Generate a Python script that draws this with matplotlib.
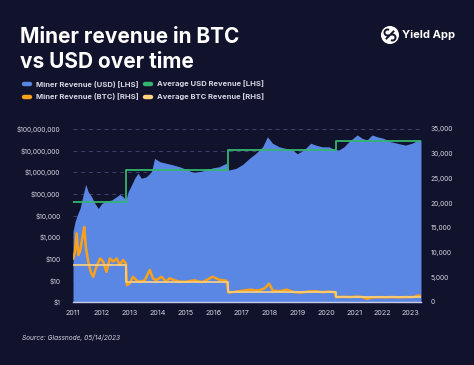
import numpy as np
import matplotlib
matplotlib.use('Agg')
import matplotlib.pyplot as plt
from matplotlib.lines import Line2D
from matplotlib.patches import Circle, Arc
from matplotlib.transforms import IdentityTransform
from matplotlib.ticker import FixedLocator, FuncFormatter

# Выручка майнеров в USD (верхняя граница синей области), годы в долях
usd_years = [2011.0, 2011.07, 2011.15, 2011.25, 2011.36, 2011.45, 2011.54, 2011.66,
             2011.78, 2011.9, 2012.02, 2012.19, 2012.37, 2012.55, 2012.66, 2012.78,
             2012.88, 2012.96, 2013.08, 2013.19, 2013.31, 2013.43, 2013.61, 2013.79,
             2013.9, 2014.08, 2014.32, 2014.55, 2014.79, 2015.08, 2015.26, 2015.5,
             2015.73, 2015.97, 2016.2, 2016.44, 2016.53, 2016.79, 2017.03, 2017.27,
             2017.5, 2017.74, 2017.91, 2018.09, 2018.33, 2018.56, 2018.8, 2018.97,
             2019.21, 2019.45, 2019.63, 2019.86, 2020.1, 2020.27, 2020.45, 2020.63,
             2020.81, 2021.1, 2021.28, 2021.45, 2021.63, 2021.81, 2022.04, 2022.28,
             2022.52, 2022.81, 2023.05, 2023.28, 2023.37]
usd_revenue = [1800, 5100, 10500, 21000, 89000, 277000, 126000, 74000,
               36000, 21000, 36000, 47000, 52000, 74000, 95000, 74000,
               52000, 126000, 257000, 525000, 900000, 525000, 620000, 1070000,
               4400000, 3100000, 2600000, 2200000, 1800000, 1270000, 1000000, 1070000,
               1270000, 1600000, 1800000, 2600000, 1270000, 1500000, 2300000, 4400000,
               7500000, 15000000, 44000000, 22000000, 15000000, 12700000, 10700000, 7200000,
               10700000, 22000000, 18000000, 15000000, 15000000, 11500000, 10700000, 15000000,
               26000000, 53000000, 37000000, 31000000, 53000000, 44000000, 37000000, 26000000,
               22000000, 18000000, 22000000, 31000000, 30000000]

# Выручка майнеров в BTC (правая ось)
btc_years = [2011.01, 2011.07, 2011.13, 2011.19, 2011.25, 2011.34, 2011.4, 2011.46,
             2011.54, 2011.63, 2011.72, 2011.81, 2011.96, 2012.07, 2012.19, 2012.31,
             2012.43, 2012.55, 2012.66, 2012.78, 2012.88, 2012.92, 2013.02, 2013.13,
             2013.25, 2013.37, 2013.55, 2013.73, 2013.84, 2013.96, 2014.14, 2014.32,
             2014.43, 2014.61, 2014.79, 2015.02, 2015.3, 2015.6, 2015.96, 2016.2,
             2016.45, 2016.53, 2016.8, 2017.05, 2017.3, 2017.55, 2017.8, 2017.97,
             2018.1, 2018.35, 2018.6, 2018.85, 2019.1, 2019.35, 2019.6, 2019.85,
             2020.1, 2020.3, 2020.35, 2020.6, 2020.85, 2021.1, 2021.3, 2021.45,
             2021.6, 2021.85, 2022.1, 2022.35, 2022.6, 2022.85, 2023.1, 2023.3, 2023.37]
btc_revenue = [8840, 10200, 13900, 9500, 10200, 13200, 15200, 10900,
               8200, 6100, 5100, 6800, 8800, 8200, 6100, 8800,
               8200, 8800, 7500, 8500, 7800, 3400, 3800, 5100,
               4400, 4100, 4400, 6500, 4800, 4400, 5100, 4100,
               4800, 4400, 4100, 4100, 4400, 4000, 5100, 4500,
               4300, 1900, 2100, 2300, 2500, 2300, 2700, 3700,
               2300, 2200, 2500, 2000, 1900, 2100, 2200, 2000,
               2100, 2000, 1000, 1050, 1000, 1100, 1000, 600,
               900, 1000, 950, 1000, 950, 1000, 1000, 1350, 1100]

# Средние значения по эпохам халвинга
epoch_starts = [2011.0, 2012.9, 2016.5, 2020.35, 2023.37]
avg_usd = [40000, 1270000, 10700000, 29000000]
avg_btc = [7500, 4100, 2050, 1050]

year_ticks = list(range(2011, 2024))
usd_ticks = [1, 10, 100, 1000, 10000, 100000, 1000000, 10000000, 100000000]
btc_ticks = [0, 5000, 10000, 15000, 20000, 25000, 30000, 35000]

BG = '#11122b'
BLUE = '#5a87e3'
GREEN = '#33b56f'
ORANGE = '#f9a11b'
LIGHT_ORANGE = '#ffd27f'
TXT = '#d4d6e4'

plt.rcParams['font.family'] = ['Inter', 'DejaVu Sans']

W, H = 474, 365
fig = plt.figure(figsize=(W / 100, H / 100), dpi=100, facecolor=BG)


def fx(px):
    return px / W


def fy(py):
    return 1 - py / H


ax1 = fig.add_axes([fx(73), fy(302), fx(421) - fx(73), fy(129) - fy(302)])
ax1.set_facecolor(BG)
ax1.set_yscale('log')
ax1.set_ylim(1, 1e8)
ax1.set_xlim(2011.0, 2023.37)

for t in usd_ticks[1:]:
    ax1.axhline(t, color='#3c4170', lw=0.7, ls=(0, (4, 4)), zorder=0)

ax1.fill_between(usd_years, 1, usd_revenue, color=BLUE, lw=0, zorder=1)
ax1.step(epoch_starts, avg_usd + [avg_usd[-1]], where='post', color=GREEN, lw=1.3, zorder=3)

ax1.yaxis.set_major_locator(FixedLocator(usd_ticks))
ax1.yaxis.set_minor_locator(FixedLocator([]))
ax1.yaxis.set_major_formatter(FuncFormatter(lambda v, p: '${:,.0f}'.format(v)))
ax1.xaxis.set_major_locator(FixedLocator(year_ticks))
ax1.xaxis.set_major_formatter(FuncFormatter(lambda v, p: str(int(round(v)))))

ax2 = ax1.twinx()
ax2.set_ylim(0, 35000)
ax2.plot(btc_years, btc_revenue, color=ORANGE, lw=1.8, zorder=2)
ax2.step(epoch_starts, avg_btc + [avg_btc[-1]], where='post', color=LIGHT_ORANGE, lw=1.2, zorder=3)
ax2.yaxis.set_major_locator(FixedLocator(btc_ticks))
ax2.yaxis.set_major_formatter(FuncFormatter(lambda v, p: '{:,.0f}'.format(v)))

for ax in (ax1, ax2):
    for s in ax.spines.values():
        s.set_visible(False)
    ax.tick_params(length=0, labelsize=4.8, colors=TXT)
ax1.tick_params(axis='x', labelsize=5.2, pad=6)
ax1.tick_params(axis='y', pad=9)
ax2.tick_params(axis='y', pad=7)
ax1.spines['bottom'].set_visible(True)
ax1.spines['bottom'].set_color('#c9cce6')
ax1.spines['bottom'].set_linewidth(1.0)

# Заголовок
fig.text(fx(20), fy(43), 'Miner revenue in BTC', color='white', fontsize=15,
         fontweight='bold', va='baseline')
fig.text(fx(20), fy(68), 'vs USD over time', color='white', fontsize=15,
         fontweight='bold', va='baseline')

# Легенда
legend_items = [
    (22, 84, BLUE, 'Miner Revenue (USD) [LHS]'),
    (22, 97, ORANGE, 'Miner Revenue (BTC) [RHS]'),
    (143, 84, GREEN, 'Average USD Revenue [LHS]'),
    (143, 97, LIGHT_ORANGE, 'Average BTC Revenue [RHS]'),
]
for px, py, col, lbl in legend_items:
    fig.add_artist(Line2D([fx(px + 2), fx(px + 8)], [fy(py), fy(py)], transform=fig.transFigure,
                          color=col, lw=3.2, solid_capstyle='round'))
    fig.text(fx(px + 14), fy(py), lbl, color=TXT, fontsize=5.5, fontweight='bold', va='center')

# Логотип
idt = IdentityTransform()
fig.add_artist(Circle((390, H - 35), 8.3, transform=idt, color='white'))
fig.add_artist(Arc((387.5, H - 32.5), 6, 6, theta1=60, theta2=300, transform=idt, color=BG, lw=1.4))
fig.add_artist(Arc((392.5, H - 37.5), 6, 6, theta1=240, theta2=480, transform=idt, color=BG, lw=1.4))
fig.add_artist(Line2D([386.5, 393.5], [H - 38.5, H - 31.5], transform=idt, color=BG, lw=1.4))
fig.text(fx(402), fy(35), 'Yield App', color='white', fontsize=8, fontweight='bold', va='center')

# Источник
fig.text(fx(22), fy(338), 'Source: Glassnode, 05/14/2023', color=TXT, fontsize=4.7,
         style='italic', va='center')

fig.savefig('out.png', dpi=100, facecolor=BG)
